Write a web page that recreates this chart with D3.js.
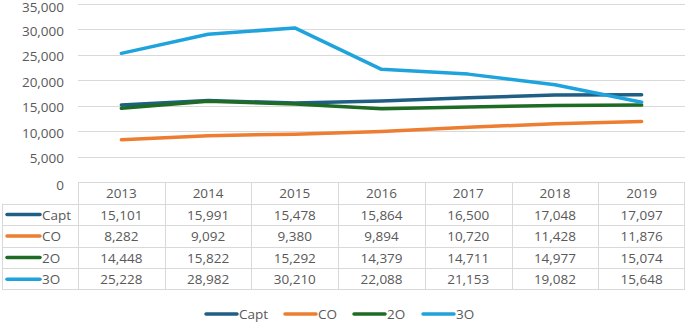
<!DOCTYPE html>
<html>
<head>
<meta charset="utf-8">
<script src="https://cdn.jsdelivr.net/npm/d3@7/dist/d3.min.js"></script>
<style>
  body { margin: 0; background: #fff; }
  svg { display: block; font-family: "Open Sans", sans-serif; }
  text { fill: #595959; }
</style>
</head>
<body>
<div id="chart"></div>
<script>
var years = ['2013', '2014', '2015', '2016', '2017', '2018', '2019'];
var seriesNames = ['Capt', 'CO', '2O', '3O'];
var capt = [15101, 15991, 15478, 15864, 16500, 17048, 17097];
var co = [8282, 9092, 9380, 9894, 10720, 11428, 11876];
var twoO = [14448, 15822, 15292, 14379, 14711, 14977, 15074];
var threeO = [25228, 28982, 30210, 22088, 21153, 19082, 15648];
var yTicks = [0, 5000, 10000, 15000, 20000, 25000, 30000, 35000];
var colors = ['#1f5f86', '#ed7d31', '#1e6b24', '#1fa3dc'];

var series = seriesNames.map(function (name, i) {
  return { name: name, values: [capt, co, twoO, threeO][i], color: colors[i] };
});

var W = 685, H = 322,
plotLeft = 78, plotRight = 685, plotTop = 3.5, plotBase = 182,
tableLeft = 2, tableBottom = 290,
fs = '13.5px';

var svg = d3.select('#chart').
append('svg').
attr('width', W).
attr('height', H);

var x = d3.scaleBand().
domain(years).
range([plotLeft, plotRight]);

var y = d3.scaleLinear().
domain([0, 35000]).
range([plotBase, plotTop]);

var rows = d3.scaleBand().
domain(['head'].concat(seriesNames)).
range([plotBase, tableBottom]);

var fmt = d3.format(',');

// gridlines
svg.append('g').
selectAll('line').
data(yTicks.filter(d => d > 0)).
enter().
append('line').
attr('x1', plotLeft).
attr('x2', plotRight).
attr('y1', d => Math.round(y(d)) + 0.5).
attr('y2', d => Math.round(y(d)) + 0.5).
attr('stroke', '#d9d9d9').
attr('stroke-width', 1);

// y axis labels
var yAxis = d3.axisLeft(y).
tickValues(yTicks).
tickSize(0).
tickPadding(14).
tickFormat(fmt);

var ya = svg.append('g').
attr('transform', 'translate(' + plotLeft + ',0)').
call(yAxis);
ya.select('.domain').remove();
ya.selectAll('text').
attr('dy', '0.45em').
style('font-size', fs).
style('font-family', '"Open Sans", sans-serif').
attr('fill', '#595959');
ya.select('.tick:first-of-type text').attr('dy', '0.55em');
ya.select('.tick:last-of-type text').attr('dy', '0.62em');

// lines
var line = d3.line().
x((d, i) => x(years[i]) + x.bandwidth() / 2).
y(d => y(d));

svg.append('g').
selectAll('path').
data(series).
enter().
append('path').
attr('d', d => line(d.values)).
attr('fill', 'none').
attr('stroke', d => d.color).
attr('stroke-width', 3.5).
attr('stroke-linecap', 'round').
attr('stroke-linejoin', 'round');

// data table
var grid = svg.append('g').
attr('stroke', '#d9d9d9').
attr('stroke-width', 1).
attr('fill', 'none');

grid.append('line').
attr('x1', plotLeft).attr('x2', plotRight).
attr('y1', Math.round(plotBase) + 0.5).attr('y2', Math.round(plotBase) + 0.5);
seriesNames.forEach(function (n) {
  var yy = Math.round(rows(n)) + 0.5;
  grid.append('line').
  attr('x1', tableLeft).attr('x2', plotRight).
  attr('y1', yy).attr('y2', yy);
});
grid.append('line').
attr('x1', tableLeft).attr('x2', plotRight).
attr('y1', Math.round(tableBottom) - 0.5).attr('y2', Math.round(tableBottom) - 0.5);

grid.append('line').
attr('x1', tableLeft + 0.5).attr('x2', tableLeft + 0.5).
attr('y1', rows(seriesNames[0])).attr('y2', tableBottom);
years.forEach(function (yr) {
  var xx = Math.round(x(yr)) + 0.5;
  grid.append('line').
  attr('x1', xx).attr('x2', xx).
  attr('y1', plotBase).attr('y2', tableBottom);
});
grid.append('line').
attr('x1', plotRight - 0.5).attr('x2', plotRight - 0.5).
attr('y1', plotBase).attr('y2', tableBottom);

var tbl = svg.append('g').
style('font-size', fs);

tbl.selectAll('text.yr').
data(years).
enter().
append('text').
attr('class', 'yr').
attr('x', d => x(d) + x.bandwidth() / 2).
attr('y', rows('head') + rows.bandwidth() / 2).
attr('dy', '0.38em').
attr('text-anchor', 'middle').
text(d => d);

var rowG = tbl.selectAll('g.row').
data(series).
enter().
append('g').
attr('class', 'row').
attr('transform', d => 'translate(0,' + (rows(d.name) + rows.bandwidth() / 2) + ')');

rowG.append('line').
attr('x1', 7).attr('x2', 40).
attr('y1', 0).attr('y2', 0).
attr('stroke', d => d.color).
attr('stroke-width', 3.5).
attr('stroke-linecap', 'round');

rowG.append('text').
attr('x', 42).
attr('dy', '0.38em').
text(d => d.name);

rowG.selectAll('text.val').
data(d => d.values).
enter().
append('text').
attr('class', 'val').
attr('x', (d, i) => x(years[i]) + x.bandwidth() / 2).
attr('dy', '0.38em').
attr('text-anchor', 'middle').
text(d => fmt(d));

// bottom legend
var legX = d3.scaleOrdinal().
domain(seriesNames).
range([205, 284, 353, 422]);

var leg = svg.append('g').
attr('transform', 'translate(0,314)').
style('font-size', fs);

var li = leg.selectAll('g').
data(series).
enter().
append('g').
attr('transform', d => 'translate(' + legX(d.name) + ',0)');

li.append('line').
attr('x1', 1).attr('x2', 32).
attr('y1', 0).attr('y2', 0).
attr('stroke', d => d.color).
attr('stroke-width', 3.5).
attr('stroke-linecap', 'round');

li.append('text').
attr('x', 34).
attr('dy', '0.38em').
text(d => d.name);
</script>
</body>
</html>
